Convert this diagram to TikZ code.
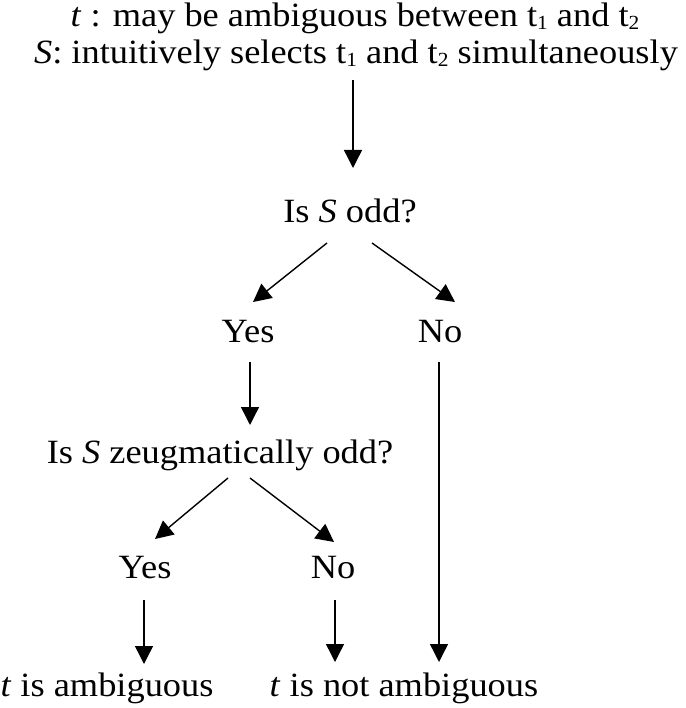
\documentclass[tikz,border=0pt]{standalone}
\usepackage{fontspec}
\setmainfont{Liberation Serif}[FakeStretch=1.07]
\usetikzlibrary{arrows.meta}
\newcommand{\sbx}[1]{\raisebox{-0.08em}{\fontsize{20}{20}\selectfont #1}}
\begin{document}
\begin{tikzpicture}[x=1pt,y=-1pt,
  lbl/.style={inner sep=0pt,anchor=base,font=\fontsize{34}{36}\selectfont},
  arr/.style={line width=1.4pt,-{Triangle[length=18pt,width=18pt]}}]
\useasboundingbox (0,0) rectangle (685,708);
\node[lbl] (l1) at (355,27) {\textit{t} : may be ambiguous between t\sbx{1} and t\sbx{2}};
\node[lbl] (l2) at (356,64) {\textit{S}: intuitively selects t\sbx{1} and t\sbx{2} simultaneously};
\node[lbl] (odd) at (350,223) {Is \textit{S} odd?};
\node[lbl] (yes1) at (248,342) {Yes};
\node[lbl] (no1) at (440,342) {No};
\node[lbl] (zeug) at (220,463) {Is \textit{S} zeugmatically odd?};
\node[lbl] (yes2) at (145,578) {Yes};
\node[lbl] (no2) at (333,578) {No};
\node[lbl] (amb) at (107,696) {\textit{t} is ambiguous};
\node[lbl] (namb) at (404,696) {\textit{t} is not ambiguous};
\coordinate (a0) at (353,80);
\coordinate (a1) at (353,168);
\draw[arr] (a0) -- (a1);
\coordinate (b0) at (327,243);
\coordinate (b1) at (253,302);
\draw[arr] (b0) -- (b1);
\coordinate (c0) at (372,243);
\coordinate (c1) at (455,302);
\draw[arr] (c0) -- (c1);
\coordinate (d0) at (250,362);
\coordinate (d1) at (250,425);
\draw[arr] (d0) -- (d1);
\coordinate (e0) at (439,362);
\coordinate (e1) at (439,662);
\draw[arr] (e0) -- (e1);
\coordinate (f0) at (228,478);
\coordinate (f1) at (155,539);
\draw[arr] (f0) -- (f1);
\coordinate (g0) at (250,478);
\coordinate (g1) at (334,542);
\draw[arr] (g0) -- (g1);
\coordinate (h0) at (144,600);
\coordinate (h1) at (144,664);
\draw[arr] (h0) -- (h1);
\coordinate (i0) at (335,600);
\coordinate (i1) at (335,662);
\draw[arr] (i0) -- (i1);
\end{tikzpicture}
\end{document}
